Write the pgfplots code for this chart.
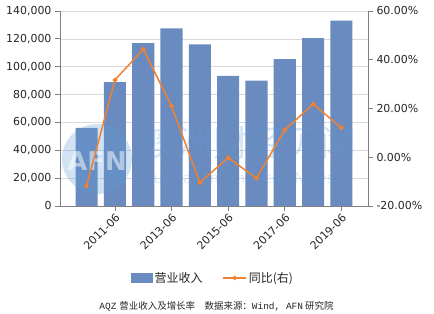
\documentclass[border=0pt]{standalone}
\usepackage{pgfplots}
\pgfplotsset{compat=1.18}
\usepackage{fontspec}
\setmainfont{DejaVu Sans}
\newfontfamily\cjk{Noto Sans CJK SC}
\newfontfamily\mono{Liberation Mono}
\definecolor{barblue}{HTML}{6A8BBF}
\definecolor{lineorange}{HTML}{EE8232}
\definecolor{wmblue}{HTML}{5B9BD5}
\definecolor{txt}{HTML}{262626}
\definecolor{gridc}{HTML}{D9D9D9}
\definecolor{axc}{HTML}{808080}

\begin{document}
\begin{tikzpicture}
\useasboundingbox (0bp,0bp) rectangle (434bp,314bp);
\begin{axis}[
  at={(60bp,108bp)}, anchor=south west,
  scale only axis, width=308bp, height=195bp,
  xmin=-0.94, xmax=9.94, ymin=0, ymax=140000,
  scaled y ticks=false,
  axis x line*=bottom, axis y line*=left,
  axis line style={axc},
  ytick={0,20000,40000,60000,80000,100000,120000,140000},
  yticklabels={0,{20,000},{40,000},{60,000},{80,000},{100,000},{120,000},{140,000}},
  xtick={1,3,5,7,9},
  xticklabels={2011-06,2013-06,2015-06,2017-06,2019-06},
  x tick label style={rotate=45, anchor=north east, inner sep=1bp},
  tick label style={font=\fontsize{11}{13}\selectfont, text=txt},
  tick align=outside, major tick length=5bp,
  tick style={axc, line width=0.8pt},
  ymajorgrids, grid style={gridc, line width=0.6pt},
]
\addplot[ybar, bar width=0.78, fill=barblue, draw=none] coordinates {
(0,56000) (1,89000) (2,117000) (3,127500) (4,116000)
(5,93500) (6,90000) (7,105500) (8,120500) (9,133000)};
\end{axis}
% watermark
\fill[wmblue, opacity=0.28] (97bp,155bp) circle (35bp);
\node[white, opacity=0.5, font=\fontsize{26}{28}\selectfont\bfseries] at (97bp,153bp) {AFN};
\node[wmblue, opacity=0.25, font=\cjk\fontsize{36}{38}\selectfont, anchor=west] at (138bp,171bp) {澳洲财经见闻};
\node[wmblue, opacity=0.2, font=\fontsize{15}{17}\selectfont, anchor=west] at (140bp,136bp) {Australian Financial News};
\begin{axis}[
  at={(60bp,108bp)}, anchor=south west,
  scale only axis, width=308bp, height=195bp,
  xmin=-0.94, xmax=9.94, ymin=-20, ymax=60,
  axis x line=none, axis y line*=right,
  axis line style={axc},
  ytick={-20,0,20,40,60},
  yticklabels={-20.00\%,0.00\%,20.00\%,40.00\%,60.00\%},
  tick label style={font=\fontsize{11}{13}\selectfont, text=txt},
  tick align=outside, major tick length=5bp,
  tick style={axc, line width=0.8pt},
  legend style={at={(0.497,-0.369)}, anchor=center, draw=none, fill=none,
    legend columns=2, font=\cjk\fontsize{12}{14}\selectfont, text=txt,
    /tikz/every even column/.append style={column sep=18bp}},
]
\addlegendimage{legend image code/.code={\fill[barblue] (0bp,-4.5bp) rectangle (21bp,4.5bp);}}
\addlegendentry{营业收入}
\addplot[lineorange, line width=1.5pt, mark=*, mark size=1.6pt,
  legend image code/.code={\draw[lineorange,line width=1.5pt] (0bp,0bp) -- (23bp,0bp); \fill[lineorange] (11.5bp,0bp) circle (1.4bp);}]
coordinates {
(0,-11.7) (1,31.7) (2,44.3) (3,21.0) (4,-10.4)
(5,-0.2) (6,-8.6) (7,11.2) (8,21.8) (9,12.1)};
\addlegendentry{同比(右)}
\end{axis}
\node[txt, anchor=center] at (216.5bp,7.5bp) {\fontsize{9.5}{11}\selectfont{\mono AQZ} \cjk 营业收入及增长率\quad 数据来源：{\mono Wind, AFN} 研究院};
\end{tikzpicture}
\end{document}
